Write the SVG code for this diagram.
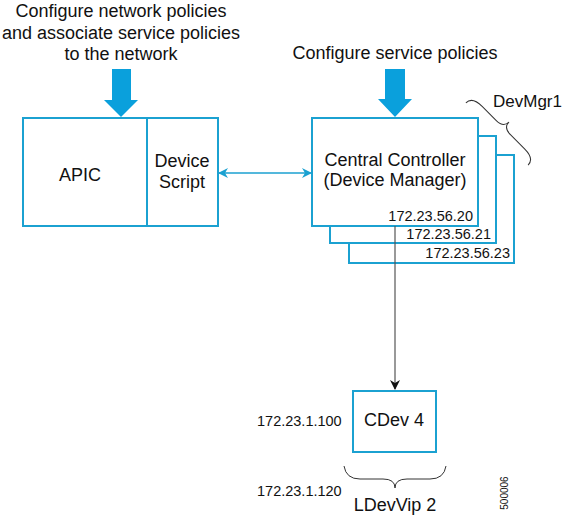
<svg xmlns="http://www.w3.org/2000/svg" width="566" height="520" viewBox="0 0 566 520">
<defs>
<style>
text{font-family:"Liberation Sans",Arial,sans-serif;fill:#111}
.t18{font-size:18px}
.ip{font-size:14.5px}
.box{fill:#fff;stroke:#1ba1d1;stroke-width:2}
.big{fill:#0aa0dc}
.thin{fill:none;stroke:#333;stroke-width:1}
</style>
<marker id="ba" viewBox="0 0 10 10" refX="9" refY="5" markerWidth="10" markerHeight="10" markerUnits="userSpaceOnUse" orient="auto-start-reverse">
<path d="M0,0 L10,5 L0,10 L3,5 Z" fill="#1ba1d1"/>
</marker>
<marker id="ka" viewBox="0 0 10 10" refX="9" refY="5" markerWidth="10" markerHeight="10" markerUnits="userSpaceOnUse" orient="auto">
<path d="M0,0 L10,5 L0,10 L3,5 Z" fill="#111"/>
</marker>
</defs>
<g id="labels">
<text class="t18" text-anchor="middle" x="121" y="17">Configure network policies</text>
<text class="t18" text-anchor="middle" x="121" y="39">and associate service policies</text>
<text class="t18" text-anchor="middle" x="121" y="60">to the network</text>
<text class="t18" text-anchor="middle" x="395" y="59">Configure service policies</text>
</g>
<g id="arrow-apic">
<path class="big" d="M112,69 H131 V100 H138 L121,117 L104,100 H112 Z"/>
</g>
<g id="arrow-controller">
<path class="big" d="M385,69 H405 V99 H412 L395,117 L378,99 H385 Z"/>
</g>
<g id="apic">
<rect class="box" x="23" y="118" width="195" height="108"/>
<line x1="147" y1="118" x2="147" y2="226" stroke="#1ba1d1" stroke-width="2"/>
<text class="t18" text-anchor="middle" x="80" y="181">APIC</text>
<text class="t18" text-anchor="middle" x="182" y="167">Device</text>
<text class="t18" text-anchor="middle" x="182" y="188">Script</text>
</g>
<g id="controller">
<rect class="box" x="349" y="155" width="165" height="108"/>
<rect class="box" x="330" y="136" width="166" height="107"/>
<rect class="box" x="312" y="118" width="166" height="108"/>
<text class="t18" text-anchor="middle" x="395" y="166">Central Controller</text>
<text class="t18" text-anchor="middle" x="395" y="186">(Device Manager)</text>
<text class="ip" text-anchor="end" x="473" y="221">172.23.56.20</text>
<text class="ip" text-anchor="end" x="491" y="239">172.23.56.21</text>
<text class="ip" text-anchor="end" x="510" y="258">172.23.56.23</text>
</g>
<g id="devmgr">
<path class="thin" transform="translate(497,134) rotate(45)" d="M-44,0 Q-44,-9 -30,-9 L-10,-9 Q0,-9 0,-17 Q0,-9 10,-9 L30,-9 Q44,-9 44,0"/>
<text font-size="17" x="493" y="107">DevMgr1</text>
</g>
<g id="cdev">
<rect class="box" x="353" y="391" width="83" height="61"/>
<text class="t18" text-anchor="middle" x="394" y="426">CDev 4</text>
<text class="ip" x="257" y="426">172.23.1.100</text>
</g>
<g id="ldevvip">
<path class="thin" d="M344,466 Q346,479 360,479 L383,479 Q395,479 395,488 Q395,479 407,479 L430,479 Q444,479 446,466"/>
<text class="ip" x="257" y="496">172.23.1.120</text>
<text class="t18" text-anchor="middle" x="395" y="511">LDevVip 2</text>
</g>
<g id="connectors">
<line x1="219" y1="173" x2="311" y2="173" stroke="#1ba1d1" stroke-width="1.5" marker-start="url(#ba)" marker-end="url(#ba)"/>
<line x1="395" y1="226" x2="395" y2="389" stroke="#555" stroke-width="1.2" marker-end="url(#ka)"/>
</g>
<text font-size="10" text-anchor="middle" transform="translate(508,493) rotate(-90)">500006</text>
</svg>
